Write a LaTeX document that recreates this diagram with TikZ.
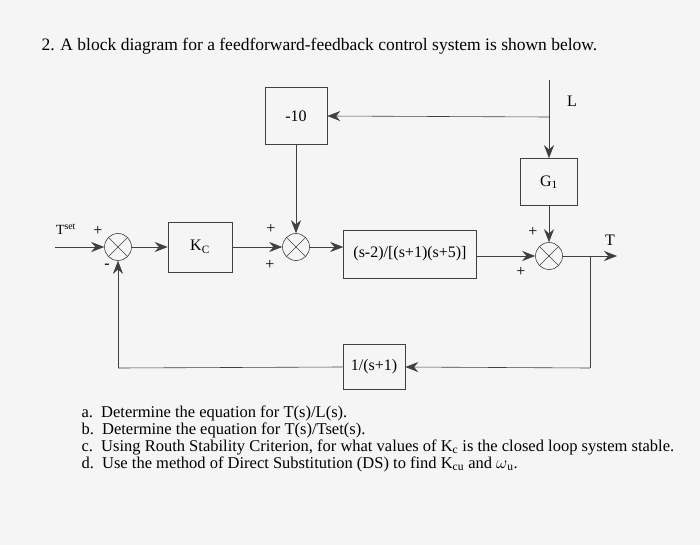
\documentclass[tikz,border=0pt]{standalone}
\usepackage{fontspec}
\setmainfont{Liberation Serif}
\usetikzlibrary{arrows.meta}
\begin{document}
\begin{tikzpicture}[x=1pt,y=-1pt,
  blk/.style={draw=black!75,line width=0.6pt,inner sep=0pt,font=\fontsize{16}{18}\selectfont},
  sumj/.style={draw=black!75,circle,minimum size=27pt,inner sep=0pt,line width=0.6pt,
    path picture={\draw[black!75] (path picture bounding box.north west)--(path picture bounding box.south east)
      (path picture bounding box.north east)--(path picture bounding box.south west);}},
  ln/.style={black!75,line width=0.6pt},
  ar/.style={ln,-{Stealth[length=13pt,width=10pt]}},
  sg/.style={font=\fontsize{16}{16}\selectfont,inner sep=0pt}]
\fill[black!4] (0,0) rectangle (700,545);
\useasboundingbox (0,0) rectangle (700,545);
\node[anchor=west,font=\fontsize{17.5}{20}\selectfont] (title) at (38,46) {2. A block diagram for a feedforward-feedback control system is shown below.};
\node[blk,minimum width=62pt,minimum height=57pt] (m10) at (296,116) {-10};
\node[blk,minimum width=57pt,minimum height=47pt] (g1) at (549,182) {G\textsubscript{1}};
\node[sumj] (s1) at (118,247) {};
\node[blk,minimum width=64pt,minimum height=50pt] (kc) at (200,247) {K\textsubscript{C}};
\node[sumj] (s2) at (296,247) {};
\node[blk,minimum width=133pt,minimum height=48pt] (gp) at (410,254) {(s-2)/[(s+1)(s+5)]};
\node[sumj] (s3) at (549,256) {};
\node[blk,minimum width=62pt,minimum height=45pt] (gm) at (374,367) {1/(s+1)};
\coordinate (ltop) at (549,80);
\coordinate (lj) at (549,117);
\coordinate (tin) at (55,247);
\coordinate (tout) at (617,256);
\coordinate (br) at (590,256);
\coordinate (brd) at (590,368);
\coordinate (fbl) at (118,368);
\node[font=\fontsize{16}{18}\selectfont] (lL) at (572,101) {L};
\node[font=\fontsize{16}{18}\selectfont] (lT) at (610,240) {T};
\node[font=\fontsize{14}{16}\selectfont] (lTs) at (66,229) {T\textsuperscript{set}};
\draw[ln] (ltop) -- (lj);
\draw[ar] (lj) -- (m10.east);
\draw[ar] (lj) -- (g1.north);
\draw[ar] (g1.south) -- (s3.north);
\draw[ar] (m10.south) -- (s2.north);
\draw[ar] (tin) -- (s1.west);
\draw[ar] (s1.east) -- (kc.west);
\draw[ar] (kc.east) -- (s2.west);
\draw[ar] (s2.east) -- (s2.east -| gp.west);
\draw[ar] (gp.east |- s3.west) -- (s3.west);
\draw[ar] (s3.east) -- (tout);
\draw[ln] (br) -- (brd);
\draw[ar] (brd) -- (gm.east);
\draw[ln] (gm.west) -- (fbl);
\draw[ar] (fbl) -- (s1.south);
\node[sg] (p1) at (98,231) {+};
\node[sg] (p2) at (107,266) {-};
\node[sg] (p3) at (271,229) {+};
\node[sg] (p4) at (270,265) {+};
\node[sg] (p5) at (533,232) {+};
\node[sg] (p6) at (521,272) {+};
\node[anchor=north west,align=left,font=\fontsize{16.5}{17}\selectfont] (q) at (78,402) {%
a.\enspace Determine the equation for T(s)/L(s).\\
b.\enspace Determine the equation for T(s)/Tset(s).\\
c.\enspace Using Routh Stability Criterion, for what values of K\textsubscript{c} is the closed loop system stable.\\
d.\enspace Use the method of Direct Substitution (DS) to find K\textsubscript{cu} and $\omega$\textsubscript{u}.};
\end{tikzpicture}
\end{document}
